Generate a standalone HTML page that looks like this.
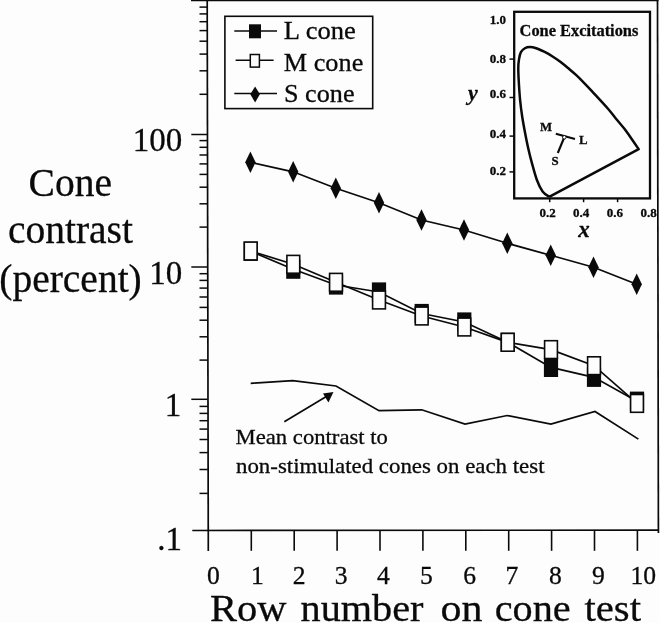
<!DOCTYPE html>
<html lang="en"><head><meta charset="utf-8"><title>Cone contrast vs row number on cone test</title>
<style>html,body{margin:0;padding:0;background:#fff}body{width:660px;height:623px;overflow:hidden}svg{display:block}text{font-family:"Liberation Serif",serif;fill:#0a0a0a;stroke:#0a0a0a;stroke-width:0.3px}.ln{stroke:#0a0a0a;fill:none;stroke-linecap:butt}</style></head><body>
<svg width="660" height="623" viewBox="0 0 660 623">
<rect x="0" y="0" width="660" height="623" fill="#fdfdfd"/>
<g class="ln" stroke-width="1.7">
<line x1="207.2" y1="0" x2="208.3" y2="551"/>
<line x1="657.5" y1="0" x2="658.4" y2="533"/>
<line x1="191" y1="0.5" x2="658.5" y2="0.5" stroke-width="1.6"/>
<line x1="192.3" y1="530.5" x2="659" y2="530.1"/>
</g>
<g class="ln" stroke-width="1.5">
<line x1="191.3" y1="134.5" x2="207.6" y2="134.5"/>
<line x1="191.3" y1="267.0" x2="207.6" y2="267.0"/>
<line x1="191.3" y1="399.3" x2="207.6" y2="399.3"/>
<line x1="199.5" y1="94.3" x2="207.8" y2="94.3"/>
<line x1="199.5" y1="70.8" x2="207.8" y2="70.8"/>
<line x1="199.5" y1="54.1" x2="207.8" y2="54.1"/>
<line x1="199.5" y1="41.2" x2="207.8" y2="41.2"/>
<line x1="199.5" y1="30.6" x2="207.8" y2="30.6"/>
<line x1="199.5" y1="21.7" x2="207.8" y2="21.7"/>
<line x1="199.5" y1="13.9" x2="207.8" y2="13.9"/>
<line x1="199.5" y1="7.1" x2="207.8" y2="7.1"/>
<line x1="199.5" y1="227.1" x2="207.8" y2="227.1"/>
<line x1="199.5" y1="203.8" x2="207.8" y2="203.8"/>
<line x1="199.5" y1="187.2" x2="207.8" y2="187.2"/>
<line x1="199.5" y1="174.4" x2="207.8" y2="174.4"/>
<line x1="199.5" y1="163.9" x2="207.8" y2="163.9"/>
<line x1="199.5" y1="155.0" x2="207.8" y2="155.0"/>
<line x1="199.5" y1="147.3" x2="207.8" y2="147.3"/>
<line x1="199.5" y1="140.6" x2="207.8" y2="140.6"/>
<line x1="199.5" y1="360.1" x2="207.8" y2="360.1"/>
<line x1="199.5" y1="336.8" x2="207.8" y2="336.8"/>
<line x1="199.5" y1="320.2" x2="207.8" y2="320.2"/>
<line x1="199.5" y1="307.4" x2="207.8" y2="307.4"/>
<line x1="199.5" y1="297.0" x2="207.8" y2="297.0"/>
<line x1="199.5" y1="288.1" x2="207.8" y2="288.1"/>
<line x1="199.5" y1="280.4" x2="207.8" y2="280.4"/>
<line x1="199.5" y1="273.7" x2="207.8" y2="273.7"/>
<line x1="199.5" y1="493.4" x2="207.8" y2="493.4"/>
<line x1="199.5" y1="469.5" x2="207.8" y2="469.5"/>
<line x1="199.5" y1="452.6" x2="207.8" y2="452.6"/>
<line x1="199.5" y1="439.5" x2="207.8" y2="439.5"/>
<line x1="199.5" y1="429.1" x2="207.8" y2="429.1"/>
<line x1="199.5" y1="420.7" x2="207.8" y2="420.7"/>
<line x1="199.5" y1="413.4" x2="207.8" y2="413.4"/>
<line x1="199.5" y1="406.4" x2="207.8" y2="406.4"/>
</g>
<g class="ln" stroke-width="1.6">
<line x1="251.3" y1="530.3" x2="251.3" y2="550.8"/>
<line x1="294.2" y1="530.3" x2="294.2" y2="550.8"/>
<line x1="337.1" y1="530.3" x2="337.1" y2="550.8"/>
<line x1="380.0" y1="530.3" x2="380.0" y2="550.8"/>
<line x1="422.9" y1="530.3" x2="422.9" y2="550.8"/>
<line x1="465.8" y1="530.3" x2="465.8" y2="550.8"/>
<line x1="508.7" y1="530.3" x2="508.7" y2="550.8"/>
<line x1="551.6" y1="530.3" x2="551.6" y2="550.8"/>
<line x1="594.5" y1="530.3" x2="594.5" y2="550.8"/>
<line x1="637.4" y1="530.3" x2="637.4" y2="550.8"/>
</g>
<g font-size="33" text-anchor="end">
<text x="182.2" y="151.2">100</text>
<text x="182.2" y="283.6">10</text>
<text x="181.2" y="415.6">1</text>
<text x="182" y="550">.1</text>
</g>
<g font-size="25.6" text-anchor="middle">
<text x="213.5" y="583.9">0</text>
<text x="257.4" y="583.9">1</text>
<text x="299.1" y="583.9">2</text>
<text x="341.2" y="583.9">3</text>
<text x="383.3" y="583.9">4</text>
<text x="426.5" y="583.9">5</text>
<text x="469.6" y="583.9">6</text>
<text x="512.0" y="583.9">7</text>
<text x="555.3" y="583.9">8</text>
<text x="598.3" y="583.9">9</text>
<text x="643.2" y="583.9">10</text>
</g>
<g font-size="38.3">
<text x="210" y="621.2" textLength="76.5" lengthAdjust="spacingAndGlyphs">Row</text>
<text x="300.5" y="621.2" textLength="123" lengthAdjust="spacingAndGlyphs">number</text>
<text x="440.5" y="621.2" textLength="42" lengthAdjust="spacingAndGlyphs">on</text>
<text x="494.7" y="621.2" textLength="76" lengthAdjust="spacingAndGlyphs">cone</text>
<text x="584.5" y="621.2" textLength="56.5" lengthAdjust="spacingAndGlyphs">test</text>
</g>
<g font-size="39.5" text-anchor="middle">
<text x="70.3" y="196.1">Cone</text>
<text x="70.4" y="242.6">contrast</text>
<text x="70.5" y="292">(percent)</text>
</g>
<polyline class="ln" stroke-width="1.7" points="250.7,383.3 292.7,380.7 336.0,386.0 379.0,410.7 421.7,409.8 465.0,424.1 507.2,415.5 550.9,424.1 595.0,411.5 638.4,439.1"/>
<polyline class="ln" stroke-width="1.7" points="250.4,162.2 293.2,171.8 335.8,188.3 379.0,202.7 421.5,220.0 464.0,230.0 507.3,243.3 550.7,255.3 593.5,267.3 636.7,284.3"/>
<polyline class="ln" stroke-width="1.7" points="250.7,251.3 293.3,269.2 336.0,285.0 379.0,292.0 421.7,313.5 464.3,322.0 507.7,342.3 551.0,367.4 594.0,377.3 637.0,401.2"/>
<g fill="#0a0a0a">
<rect x="243.6" y="241.7" width="14.2" height="19.2"/>
<rect x="286.2" y="259.6" width="14.2" height="19.2"/>
<rect x="328.9" y="275.4" width="14.2" height="19.2"/>
<rect x="371.9" y="282.4" width="14.2" height="19.2"/>
<rect x="414.6" y="303.9" width="14.2" height="19.2"/>
<rect x="457.2" y="312.4" width="14.2" height="19.2"/>
<rect x="500.6" y="332.7" width="14.2" height="19.2"/>
<rect x="543.9" y="357.8" width="14.2" height="19.2"/>
<rect x="586.9" y="367.7" width="14.2" height="19.2"/>
<rect x="629.9" y="391.6" width="14.2" height="19.2"/>
</g>
<polyline class="ln" stroke-width="1.7" points="250.7,251.0 293.3,264.3 336.0,282.3 379.0,300.0 421.7,316.0 464.3,327.0 507.7,342.3 551.0,349.6 594.0,365.7 637.0,403.4"/>
<g fill="#fdfdfd" stroke="#0a0a0a" stroke-width="1.6">
<rect x="244.3" y="242.1" width="12.8" height="17.8"/>
<rect x="286.9" y="255.4" width="12.8" height="17.8"/>
<rect x="329.6" y="273.4" width="12.8" height="17.8"/>
<rect x="372.6" y="291.1" width="12.8" height="17.8"/>
<rect x="415.3" y="307.1" width="12.8" height="17.8"/>
<rect x="457.9" y="318.1" width="12.8" height="17.8"/>
<rect x="501.3" y="333.4" width="12.8" height="17.8"/>
<rect x="544.6" y="340.7" width="12.8" height="17.8"/>
<rect x="587.6" y="356.8" width="12.8" height="17.8"/>
<rect x="630.6" y="394.5" width="12.8" height="17.8"/>
</g>
<g fill="#0a0a0a">
<polygon points="245.2,162.2 250.4,151.5 255.6,162.2 250.4,172.9"/>
<polygon points="288.0,171.8 293.2,161.1 298.4,171.8 293.2,182.5"/>
<polygon points="330.6,188.3 335.8,177.6 341.0,188.3 335.8,199.0"/>
<polygon points="373.8,202.7 379.0,192.0 384.2,202.7 379.0,213.4"/>
<polygon points="416.3,220.0 421.5,209.3 426.7,220.0 421.5,230.7"/>
<polygon points="458.8,230.0 464.0,219.3 469.2,230.0 464.0,240.7"/>
<polygon points="502.1,243.3 507.3,232.6 512.5,243.3 507.3,254.0"/>
<polygon points="545.5,255.3 550.7,244.6 555.9,255.3 550.7,266.0"/>
<polygon points="588.3,267.3 593.5,256.6 598.7,267.3 593.5,278.0"/>
<polygon points="631.5,284.3 636.7,273.6 641.9,284.3 636.7,295.0"/>
</g>
<line class="ln" stroke-width="1.7" x1="284.3" y1="421.7" x2="328" y2="395.5"/>
<polygon fill="#0a0a0a" points="333.5,392 323.0,393.6 328.4,402.4"/>
<g font-size="22">
<text x="235.6" y="444" textLength="152.3" lengthAdjust="spacingAndGlyphs">Mean contrast to</text>
<text x="236" y="472.7" textLength="308.5" lengthAdjust="spacingAndGlyphs">non-stimulated cones on each test</text>
</g>
<rect class="ln" stroke-width="1.6" x="224.9" y="16.3" width="147.8" height="92.3" fill="#fdfdfd"/>
<g class="ln" stroke-width="1.5">
<line x1="234.3" y1="31.1" x2="277" y2="31.1"/>
<line x1="235.6" y1="60.2" x2="273.6" y2="60.2"/>
<line x1="234.3" y1="93.6" x2="277" y2="93.6"/>
</g>
<rect x="249" y="24.3" width="12" height="14" fill="#0a0a0a"/>
<rect x="250.3" y="54.5" width="9.1" height="12.6" fill="#fdfdfd" stroke="#0a0a0a" stroke-width="1.5"/>
<polygon fill="#0a0a0a" points="250.3,94.2 255.1,86.5 259.9,94.2 255.1,102.6"/>
<g font-size="26">
<text x="283.8" y="39.4" textLength="72" lengthAdjust="spacingAndGlyphs">L cone</text>
<text x="283.8" y="70.6" textLength="79.5" lengthAdjust="spacingAndGlyphs">M cone</text>
<text x="284" y="102.4" textLength="70.5" lengthAdjust="spacingAndGlyphs">S cone</text>
</g>
<rect class="ln" stroke-width="2.3" x="514.2" y="11.8" width="135.8" height="186.6" fill="#fdfdfd"/>
<g class="ln" stroke-width="1.5">
<line x1="509.5" y1="59.1" x2="514" y2="59.1"/>
<line x1="509.5" y1="97.5" x2="514" y2="97.5"/>
<line x1="509.5" y1="136.1" x2="514" y2="136.1"/>
<line x1="509.5" y1="171.9" x2="514" y2="171.9"/>
<line x1="549.7" y1="198.4" x2="549.7" y2="202.2"/>
<line x1="583.6" y1="198.4" x2="583.6" y2="202.2"/>
<line x1="617.6" y1="198.4" x2="617.6" y2="202.2"/>
</g>
<path class="ln" stroke-width="2.5" stroke-linejoin="round" d="M549.2,196.8 C548.1,195.9 544.6,194.2 542.6,191.5 C540.6,188.8 538.7,184.9 537.0,180.3 C535.3,175.8 533.7,169.5 532.2,164.2 C530.7,158.8 529.4,153.5 528.2,148.2 C527.0,142.8 525.9,137.5 524.9,132.1 C523.9,126.7 522.9,121.3 522.1,116.0 C521.3,110.7 520.7,106.0 520.1,100.0 C519.5,94.0 519.0,85.7 518.7,80.3 C518.4,74.9 518.2,70.9 518.3,67.4 C518.3,63.9 518.6,61.9 519.0,59.4 C519.4,56.9 519.9,54.1 520.9,52.2 C521.9,50.3 523.4,49.1 524.9,48.2 C526.4,47.3 527.9,47.0 529.8,47.0 C531.7,47.0 533.8,47.4 536.2,48.2 C538.6,49.0 541.5,50.4 544.2,51.7 C546.9,53.0 549.5,54.5 552.2,56.2 C554.9,57.9 557.7,59.8 560.3,61.8 C562.9,63.8 565.4,65.8 568.0,68.0 C570.6,70.2 573.3,72.4 576.0,74.9 C578.7,77.4 581.3,80.0 584.0,82.8 C586.7,85.5 588.1,87.0 592.1,91.4 C596.1,95.8 604.2,104.4 608.2,109.0 C612.2,113.6 613.5,115.7 616.2,119.0 C618.9,122.3 621.5,125.1 624.2,128.6 C626.9,132.0 629.8,136.3 632.2,139.7 C634.6,143.1 637.6,147.6 638.7,149.2 L549.2,196.8"/>
<g class="ln" stroke-width="2.1">
<line x1="555.8" y1="133.7" x2="575" y2="138.9"/>
<line x1="564" y1="138" x2="557.8" y2="153"/>
</g>
<circle cx="564.3" cy="137.3" r="1.8" fill="#fdfdfd" stroke="#0a0a0a" stroke-width="1"/>
<g font-weight="bold">
<text x="519.6" y="36.1" font-size="16" textLength="118.7" lengthAdjust="spacingAndGlyphs">Cone Excitations</text>
<g font-size="12.8">
<text x="540" y="131.3">M</text>
<text x="579" y="144.4">L</text>
<text x="551.6" y="165">S</text>
</g>
<g font-size="13" text-anchor="end">
<text x="506" y="23.8">1.0</text>
<text x="506" y="62.6">0.8</text>
<text x="506" y="98.4">0.6</text>
<text x="506" y="137.7">0.4</text>
<text x="506" y="174.6">0.2</text>
</g>
<g font-size="13" text-anchor="middle">
<text x="547.7" y="216.7">0.2</text>
<text x="581.2" y="216.7">0.4</text>
<text x="614.9" y="216.7">0.6</text>
<text x="648.7" y="216.7">0.8</text>
</g>
<g font-style="italic">
<text x="468" y="99.8" font-size="22">y</text>
<text x="578.3" y="237.4" font-size="23">x</text>
</g>
</g>
</svg></body></html>
